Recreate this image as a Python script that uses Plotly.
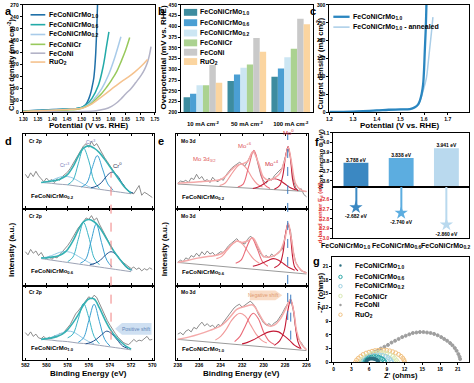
import plotly.graph_objects as go

W, H = 474, 383
FONT = "Liberation Sans"


def X(px):
    return px / W


def Y(py):
    return 1 - py / H


# ---------------- panel a : LSV ----------------
A_NAMES = ["FeCoNiCrMo<sub>1.0</sub>", "FeCoNiCrMo<sub>0.6</sub>", "FeCoNiCrMo<sub>0.2</sub>",
           "FeCoNiCr", "FeCoNi", "RuO<sub>2</sub>"]
A_COLORS = ["#1f70a8", "#22aaa8", "#a9cbe9", "#98c95c", "#b3b3c7", "#f5c28e"]
a_mo10_x = [1.30, 1.35, 1.40, 1.45, 1.48, 1.50, 1.513, 1.52, 1.529, 1.535, 1.541, 1.545, 1.548, 1.551, 1.554]
a_mo10_y = [3, 5, 7, 8, 9, 12, 19, 27, 44, 62, 85, 115, 150, 200, 270]
a_mo06_x = [1.30, 1.40, 1.45, 1.48, 1.50, 1.52, 1.535, 1.557, 1.574, 1.585, 1.593]
a_mo06_y = [3, 6, 8, 9, 12, 22, 35, 68, 118, 167, 202]
a_mo02_x = [1.30, 1.40, 1.45, 1.48, 1.50, 1.52, 1.535, 1.552, 1.569, 1.591, 1.613, 1.634]
a_mo02_y = [2, 5, 7, 8, 11, 18, 27, 42, 60, 93, 138, 190]
a_cr_x = [1.30, 1.40, 1.45, 1.48, 1.50, 1.52, 1.535, 1.55, 1.569, 1.585, 1.602, 1.62, 1.636, 1.65, 1.664]
a_cr_y = [2, 4, 6, 7, 10, 16, 23, 34, 48, 63, 81, 103, 130, 156, 188]
a_ni_x = [1.30, 1.40, 1.50, 1.55, 1.58, 1.602, 1.62, 1.636, 1.65, 1.669, 1.685, 1.703, 1.715, 1.725, 1.732, 1.737]
a_ni_y = [1, 1.5, 2, 4, 8, 15, 24, 35, 46, 60, 75, 93, 108, 126, 145, 165]
a_ru_x = [1.30, 1.40, 1.45, 1.48, 1.50, 1.513, 1.53, 1.546, 1.57, 1.591, 1.614, 1.636, 1.66, 1.681, 1.705, 1.725]
a_ru_y = [2, 5, 7, 8, 10, 13, 19, 27, 40, 52, 65, 77, 89, 101, 117, 133]
A_X = [a_mo10_x, a_mo06_x, a_mo02_x, a_cr_x, a_ni_x, a_ru_x]
A_Y = [a_mo10_y, a_mo06_y, a_mo02_y, a_cr_y, a_ni_y, a_ru_y]

# ---------------- panel b : overpotential bars ----------------
B_CATS = ["10 mA cm<sup>-2</sup>", "50 mA cm<sup>-2</sup>", "100 mA cm<sup>-2</sup>"]
B_COLORS = ["#3d8c9f", "#4b9fd3", "#cce6f3", "#abd290", "#c9c9c9", "#fbd5a0"]
b_mo10 = [235, 273, 283]
b_mo06 = [243, 288, 302]
b_mo02 = [263, 304, 328]
b_cr = [263, 311, 348]
b_ni = [310, 373, 418]
b_ru = [269, 341, 405]
B_VALS = [b_mo10, b_mo06, b_mo02, b_cr, b_ni, b_ru]

# ---------------- panel c ----------------
C_NAMES = ["FeCoNiCrMo<sub>1.0</sub>", "FeCoNiCrMo<sub>1.0</sub> - annealed"]
c_as_x = [1.2, 1.3, 1.4, 1.45, 1.5, 1.54, 1.561, 1.575, 1.582, 1.59, 1.596, 1.600, 1.603, 1.607, 1.61]
c_as_y = [1, 2, 5, 7, 8, 9, 14, 22, 32, 52, 78, 120, 170, 230, 300]
c_an_x = [1.2, 1.3, 1.4, 1.45, 1.5, 1.54, 1.561, 1.575, 1.583, 1.596, 1.61, 1.617, 1.624, 1.631, 1.6375]
c_an_y = [1, 2, 5, 7, 8, 9, 13, 21, 32, 60, 96, 135, 179, 222, 266]

# ---------------- panel d : Cr 2p XPS ----------------
CR_BE = [582.0, 581.75, 581.5, 581.25, 581.0, 580.75, 580.5, 580.25, 580.0, 579.75, 579.5, 579.25,
         579.0, 578.75, 578.5, 578.25, 578.0, 577.75, 577.5, 577.25, 577.0, 576.75, 576.5, 576.25,
         576.0, 575.75, 575.5, 575.25, 575.0, 574.75, 574.5, 574.25, 574.0, 573.75, 573.5, 573.25,
         573.0, 572.75, 572.5, 572.25, 572.0, 571.75, 571.5, 571.25, 571.0, 570.75, 570.5, 570.25, 570.0]
cr02_raw = [46, 41, 48, 43, 50, 44, 40, 36, 41, 37, 39, 35, 40, 38, 43, 46, 49, 54, 60, 66, 73, 79, 84, 87,
            82, 90, 84, 87, 80, 74, 68, 63, 57, 52, 47, 41, 36, 33, 27, 24, 21, 20, 26, 31, 18, 22, 20, 17, 15]
cr06_raw = [44, 40, 47, 42, 45, 39, 43, 37, 35, 38, 34, 37, 36, 40, 44, 47, 52, 57, 63, 70, 75, 79, 84, 88,
            86, 91, 85, 88, 80, 73, 66, 60, 52, 47, 42, 37, 33, 30, 27, 25, 22, 24, 21, 23, 19, 22, 20, 23, 21]
cr10_raw = [37, 33, 38, 32, 35, 30, 29, 32, 28, 31, 29, 33, 31, 36, 35, 39, 43, 48, 55, 62, 66, 71, 76, 80,
            85, 82, 87, 84, 76, 68, 60, 53, 47, 41, 36, 31, 27, 24, 22, 21, 24, 28, 25, 27, 26, 29, 32, 27, 28]
CR_FIT_BE = [580.5, 580.0, 579.5, 579.0, 578.5, 578.0, 577.5, 577.0, 576.5, 576.0, 575.5, 575.0,
             574.5, 574.0, 573.5, 573.0, 572.5, 572.0]
cr02_env = [35, 36, 37, 38, 41, 46, 56, 70, 81, 84, 81, 75, 66, 56, 46, 36, 27, 21]
cr02_bg = [35, 34.5, 34, 33, 32.5, 32, 31, 30, 29, 28, 27, 26, 25, 24, 23, 22, 21, 20]
cr06_env = [36, 36, 37, 38, 41, 47, 58, 72, 83, 86, 83, 76, 65, 53, 42, 33, 25, 20]
cr06_bg = [35, 34, 33, 32, 31, 30, 29, 28, 27, 26, 25, 24, 23, 22, 21, 20, 19, 18]
cr10_env = [28, 29, 30, 32, 35, 41, 50, 61, 74, 82, 82, 70, 55, 42, 32, 25, 19, 15]
cr10_bg = [28, 27.5, 27, 26, 25.5, 25, 24, 23, 22.5, 22, 21, 20, 19, 18, 17, 16, 15, 14]
# fitted components: (binding energies, intensities)
cr02_c1_be = [580.5, 580.0, 579.5, 579.0, 578.5, 578.0, 577.5, 577.0, 576.5, 576.0, 575.5]
cr02_c1 = [35, 36, 38, 41, 43, 43, 41, 37, 33, 29.5, 27]
cr02_c2_be = [578.0, 577.5, 577.0, 576.5, 576.0, 575.5, 575.0]
cr02_c2 = [32, 38, 60, 81, 64, 37, 27]
cr02_c3_be = [576.7, 576.2, 575.7, 575.2, 574.7, 574.2, 573.7]
cr02_c3 = [29, 34, 54, 71, 53, 33, 25]
cr02_c4_be = [575.8, 575.3, 574.8, 574.3, 573.8, 573.3, 572.8, 572.3, 571.8]
cr02_c4 = [28, 30, 35, 44, 49, 44, 33, 24, 21]
cr06_c1_be = [580.5, 580.0, 579.5, 579.0, 578.5, 578.0, 577.5, 577.0, 576.5, 576.0, 575.5]
cr06_c1 = [36, 37, 39, 42, 44, 44, 42, 38, 34, 30, 27]
cr06_c2_be = [578.0, 577.5, 577.0, 576.5, 576.0, 575.5, 575.0]
cr06_c2 = [31, 37, 60, 82, 63, 36, 27]
cr06_c3_be = [576.8, 576.3, 575.8, 575.3, 574.8, 574.3, 573.8]
cr06_c3 = [29, 34, 57, 80, 56, 33, 24]
cr06_c4_be = [575.9, 575.4, 574.9, 574.4, 573.9, 573.4, 572.9, 572.4, 571.9]
cr06_c4 = [27, 29, 33, 40, 44, 40, 31, 23, 20]
cr10_c1_be = [580.5, 580.0, 579.5, 579.0, 578.5, 578.0, 577.5, 577.0, 576.5, 576.0, 575.5]
cr10_c1 = [28, 29, 31, 34, 37, 39, 38, 34, 29, 25, 22]
cr10_c2_be = [578.0, 577.5, 577.0, 576.5, 576.0, 575.5, 575.0]
cr10_c2 = [30, 35, 55, 76, 57, 32, 22]
cr10_c3_be = [577.0, 576.5, 576.0, 575.5, 575.0, 574.5, 574.0]
cr10_c3 = [24, 30, 53, 75, 52, 28, 19]
cr10_c4_be = [576.3, 575.8, 575.3, 574.8, 574.3, 573.8, 573.3, 572.8, 572.3]
cr10_c4 = [22, 24, 28, 34, 39, 35, 27, 19, 16]
CR_REF_BE = 573.9

# ---------------- panel e : Mo 3d XPS ----------------
MO_BE = [238.0, 237.75, 237.5, 237.25, 237.0, 236.75, 236.5, 236.25, 236.0, 235.75, 235.5, 235.25,
         235.0, 234.75, 234.5, 234.25, 234.0, 233.75, 233.5, 233.25, 233.0, 232.75, 232.5, 232.25,
         232.0, 231.75, 231.5, 231.25, 231.0, 230.75, 230.5, 230.25, 230.0, 229.75, 229.5, 229.25,
         229.0, 228.75, 228.5, 228.25, 228.0, 227.75, 227.5, 227.25, 227.0, 226.75, 226.5, 226.25, 226.0]
mo02_raw = [34, 37, 36, 38, 35, 41, 39, 46, 40, 43, 37, 39, 35, 42, 38, 36, 40, 38, 45, 50, 54, 57, 59, 62,
            60, 57, 63, 70, 77, 73, 58, 44, 37, 34, 41, 38, 44, 48, 52, 55, 68, 82, 70, 40, 28, 24, 27, 19, 16]
mo06_raw = [30, 33, 31, 36, 34, 39, 37, 42, 38, 44, 40, 45, 41, 43, 39, 42, 44, 43, 48, 52, 55, 58, 61, 57,
            55, 54, 60, 64, 62, 57, 48, 41, 37, 39, 36, 41, 38, 42, 45, 47, 62, 80, 72, 45, 30, 24, 19, 18, 17]
mo10_raw = [35, 37, 34, 39, 41, 38, 44, 42, 47, 51, 46, 49, 45, 47, 43, 48, 46, 51, 55, 60, 66, 70, 73, 75,
            71, 74, 77, 79, 76, 71, 62, 55, 50, 47, 49, 46, 50, 52, 57, 63, 70, 76, 82, 68, 42, 28, 24, 18, 15]
MO_BG_BE = [238.0, 226.0]
mo02_bg = [33, 23]
mo06_bg = [30, 15]
mo10_bg = [28, 13]
mo02_env_be = [238, 237, 236, 235, 234, 233.5, 233, 232.5, 232, 231.5, 231, 230.5, 230, 229.5, 229, 228.5,
               228, 227.7, 227.4, 227, 226.5, 226]
mo02_env = [34, 35, 36, 37, 39, 44, 52, 58, 60, 63, 76, 62, 42, 38, 41, 47, 66, 82, 62, 33, 25, 23]
mo06_env_be = mo02_env_be
mo06_env = [30, 33, 36, 38, 41, 46, 53, 58, 56, 58, 62, 50, 38, 37, 39, 44, 62, 81, 60, 30, 20, 16]
mo10_env_be = [238, 237, 236, 235, 234, 233.5, 233, 232.5, 232, 231.5, 231, 230.5, 230, 229.5, 229, 228.5,
               228, 227.5, 227.2, 226.9, 226.5, 226]
mo10_env = [28, 31, 35, 40, 46, 52, 60, 68, 71, 73, 74, 64, 52, 46, 47, 54, 67, 81, 66, 38, 22, 14]
mo02_c1_be = [234.1, 233.6, 233.1, 232.6, 232.1, 231.6, 231.1, 230.6, 230.1]
mo02_c1 = [31, 34, 44, 54, 60, 54, 42, 33, 29]
mo02_c2_be = [232.4, 231.9, 231.4, 230.9, 230.4, 229.9, 229.4]
mo02_c2 = [29, 33, 56, 78, 55, 32, 27]
mo02_c3_be = [231.0, 230.5, 230.0, 229.5, 229.0, 228.5, 228.0, 227.5, 227.0]
mo02_c3 = [27, 29, 33, 38, 40, 38, 33, 28, 25]
mo02_c4_be = [229.0, 228.5, 228.2, 227.95, 227.72, 227.5, 227.3, 227.1, 226.8]
mo02_c4 = [26, 31, 45, 70, 83, 68, 40, 28, 24]
mo06_c1_be = [234.4, 233.9, 233.4, 232.9, 232.4, 231.9, 231.4, 230.9, 230.4]
mo06_c1 = [35, 38, 46, 54, 58, 53, 43, 34, 29]
mo06_c2_be = [232.6, 232.1, 231.6, 231.1, 230.6, 230.1, 229.6]
mo06_c2 = [29, 33, 49, 62, 48, 31, 25]
mo06_c3_be = [231.0, 230.5, 230.0, 229.5, 229.1, 228.6, 228.1, 227.6, 227.1]
mo06_c3 = [25, 27, 30, 33, 35, 33, 28, 23, 20]
mo06_c4_be = [229.0, 228.5, 228.2, 227.95, 227.72, 227.5, 227.3, 227.1, 226.8]
mo06_c4 = [23, 28, 42, 68, 81, 66, 38, 24, 19]
mo10_c1_be = [234.5, 234.0, 233.5, 233.0, 232.5, 232.2, 231.7, 231.2, 230.7, 230.2, 229.7]
mo10_c1 = [27, 32, 41, 53, 61, 63, 59, 47, 35, 27, 23]
mo10_c2_be = [232.7, 232.2, 231.7, 231.2, 230.95, 230.5, 230.0, 229.5, 229.0]
mo10_c2 = [25, 32, 46, 60, 63, 56, 38, 26, 21]
mo10_c3_be = [232.0, 231.5, 231.0, 230.5, 230.0, 229.5, 229.1, 228.6, 228.1, 227.6, 227.1, 226.6]
mo10_c3 = [22, 24, 27, 31, 35, 38, 39, 38, 33, 27, 20, 16]
mo10_c4_be = [229.0, 228.5, 228.1, 227.8, 227.47, 227.2, 227.0, 226.8, 226.5]
mo10_c4 = [20, 26, 38, 62, 81, 66, 42, 25, 15]
MO_REF_BE = 227.75
MO_SHIFT_BE = 227.47

# ---------------- panel f ----------------
F_CATS = ["FeCoNiCrMo<sub>1.0</sub>", "FeCoNiCrMo<sub>0.6</sub>", "FeCoNiCrMo<sub>0.2</sub>"]
F_COLORS = ["#3b88c2", "#5cade0", "#b9d9ee"]
f_work = [3.788, 3.838, 3.941]
f_dband = [-2.682, -2.740, -2.860]
F_WF_RANGE = [3.535, 4.1]
F_DB_RANGE = [-3.0, -2.473]

# ---------------- panel g : Nyquist ----------------
G_NAMES = A_NAMES
G_COLORS = ["#2c6f80", "#2aa6a6", "#9bd0e2", "#d9e9b3", "#9e9e9e", "#f1c282"]
g_mo10_x = [5.5, 5.6, 5.8, 6.1, 6.4, 6.7, 7.0, 7.3, 7.5, 7.6]
g_mo10_y = [0.0, 0.35, 0.6, 0.75, 0.8, 0.78, 0.68, 0.5, 0.25, 0.05]
g_mo06_x = [5.3, 5.45, 5.7, 6.0, 6.4, 6.8, 7.2, 7.6, 8.0, 8.3, 8.55, 8.7]
g_mo06_y = [0.0, 0.4, 0.7, 0.95, 1.1, 1.2, 1.2, 1.1, 0.9, 0.65, 0.35, 0.05]
g_mo02_x = [5.0, 5.2, 5.5, 5.9, 6.3, 6.8, 7.3, 7.8, 8.3, 8.8, 9.2, 9.5, 9.7, 9.8]
g_mo02_y = [0.0, 0.45, 0.8, 1.1, 1.35, 1.5, 1.6, 1.6, 1.5, 1.3, 1.05, 0.7, 0.35, 0.05]
g_cr_x = [4.6, 4.8, 5.1, 5.5, 6.0, 6.5, 7.0, 7.5, 8.0, 8.5, 9.0, 9.5, 10.0, 10.3, 10.6, 10.8]
g_cr_y = [0.0, 0.5, 0.9, 1.3, 1.6, 1.85, 2.0, 2.1, 2.1, 2.05, 1.9, 1.65, 1.3, 0.95, 0.5, 0.1]
g_ni_x = [4.6, 5.0, 5.5, 6.0, 6.5, 7.0, 7.5, 8.0, 8.6, 9.2, 9.8, 10.4, 11.0, 11.6, 12.2, 12.8, 13.4, 14.0,
          14.6, 15.2, 15.8, 16.4, 17.0, 17.6, 18.2, 18.7, 19.2, 19.7, 20.1, 20.5, 20.8, 21.1, 21.3, 21.4]
g_ni_y = [0.1, 0.6, 1.1, 1.5, 1.9, 2.3, 2.6, 3.0, 3.4, 3.8, 4.3, 4.7, 5.1, 5.5, 5.8, 6.1, 6.4, 6.5,
          6.6, 6.6, 6.5, 6.4, 6.2, 5.9, 5.5, 5.1, 4.7, 4.2, 3.7, 3.1, 2.5, 1.8, 1.2, 0.7]
g_ru_x = [3.7, 3.9, 4.2, 4.6, 5.0, 5.5, 6.0, 6.5, 7.0, 7.5, 8.0, 8.5, 9.0, 9.5, 10.0, 10.5, 11.0, 11.4,
          11.7, 11.9, 12.0]
g_ru_y = [0.0, 0.5, 0.9, 1.3, 1.7, 2.0, 2.2, 2.4, 2.55, 2.6, 2.65, 2.65, 2.6, 2.5, 2.3, 2.05, 1.7, 1.3,
          0.9, 0.5, 0.1]
G_X = [g_mo10_x, g_mo06_x, g_mo02_x, g_cr_x, g_ni_x, g_ru_x]
G_Y = [g_mo10_y, g_mo06_y, g_mo02_y, g_cr_y, g_ni_y, g_ru_y]

# =====================================================================
fig = go.Figure()
shapes = []
annotations = []
TICKFONT = dict(family=FONT, size=5, color="black", weight="bold")


def axis(domain, anchor, **kw):
    d = dict(domain=domain, anchor=anchor, showline=True, linecolor="black", linewidth=1,
             mirror=True, ticks="outside", ticklen=2, tickwidth=0.8, tickcolor="black",
             tickfont=TICKFONT, showgrid=False, zeroline=False)
    d.update(kw)
    return d


def text(t, x, y, size=7, color="black", xanchor="center", yanchor="middle", angle=0, weight="bold"):
    annotations.append(dict(text=t, x=X(x), y=Y(y), xref="paper", yref="paper", showarrow=False,
                            xanchor=xanchor, yanchor=yanchor, textangle=angle, borderpad=0,
                            font=dict(family=FONT, size=size, color=color, weight=weight)))


layout_axes = {}
DOM_TOP = [Y(111), Y(2)]
layout_axes["xaxis"] = axis([X(19), X(154)], "y", range=[1.298, 1.752], tickangle=0,
                            tickvals=[1.30, 1.35, 1.40, 1.45, 1.50, 1.55, 1.60, 1.65, 1.70, 1.75], tickformat=".2f",
                            tickfont=dict(family=FONT, size=4.5, color="black", weight="bold"))
layout_axes["yaxis"] = axis(DOM_TOP, "x", range=[0, 270], dtick=30)
layout_axes["xaxis2"] = axis([X(180), X(314)], "y2", type="category", ticks="", ticklabelstandoff=6, tickangle=0,
                             tickfont=dict(family=FONT, size=6, color="black", weight="bold"))
layout_axes["yaxis2"] = axis(DOM_TOP, "x2", range=[200, 450], dtick=25)
layout_axes["xaxis3"] = axis([X(331), X(473)], "y3", range=[1.2, 1.79], dtick=0.1)
layout_axes["yaxis3"] = axis(DOM_TOP, "x3", range=[0, 300], dtick=50)

# --- panel a traces
for xs, ys, c in zip(A_X, A_Y, A_COLORS):
    fig.add_trace(go.Scatter(x=xs, y=ys, mode="lines", line=dict(color=c, width=1.5, shape="spline"),
                             xaxis="x", yaxis="y", showlegend=False))
a_rows = [12, 22, 32, 42, 51, 60]
for name, c, ry in zip(A_NAMES, A_COLORS, a_rows):
    shapes.append(dict(type="line", xref="paper", yref="paper", x0=X(27), x1=X(42), y0=Y(ry), y1=Y(ry),
                       line=dict(color=c, width=1.6)))
    text(name, 45, ry, size=7, xanchor="left")
text("Potential (V vs. RHE)", 86, 124, size=8)
text("Current density (mA cm<sup>-2</sup>)", 7, 63, size=7.5, angle=-90)

# --- panel b traces
for vals, c in zip(B_VALS, B_COLORS):
    fig.add_trace(go.Bar(x=B_CATS, y=vals, marker=dict(color=c, line=dict(width=0)),
                         xaxis="x2", yaxis="y2", showlegend=False))
b_rows = [9.5, 20, 30.5, 40.5, 50, 59.5]
for name, c, ry in zip(A_NAMES, B_COLORS, b_rows):
    shapes.append(dict(type="rect", xref="paper", yref="paper", x0=X(183), x1=X(196.5), y0=Y(ry + 3.5),
                       y1=Y(ry - 3.5), fillcolor=c, line=dict(width=0)))
    text(name, 198.5, ry, size=7, xanchor="left")
text("Overpotential (mV vs. RHE)", 162, 55, size=8, angle=-90)

# --- panel c traces
fig.add_trace(go.Scatter(x=c_an_x, y=c_an_y, mode="lines", line=dict(color="#a9cde7", width=1.5, shape="spline"),
                         xaxis="x3", yaxis="y3", showlegend=False))
fig.add_trace(go.Scatter(x=c_as_x, y=c_as_y, mode="lines", line=dict(color="#2a86c0", width=2.3, shape="spline"),
                         xaxis="x3", yaxis="y3", showlegend=False))
for name, c, wdt, ry in zip(C_NAMES, ["#2a86c0", "#a9cde7"], [2.3, 1.5], [14, 24.5]):
    shapes.append(dict(type="line", xref="paper", yref="paper", x0=X(335), x1=X(351.5), y0=Y(ry), y1=Y(ry),
                       line=dict(color=c, width=wdt)))
    text(name, 354, ry, size=7, xanchor="left")
text("Potential (V vs. RHE)", 402, 124, size=8)
text("Current density (mA cm<sup>-2</sup>)", 321, 62, size=7.5, angle=-90)

# --- XPS panels
XPS_DOMS = [[Y(209), Y(133)], [Y(287), Y(209)], [Y(363), Y(287)]]
CR_COMP_COLORS = ["#92c9e6", "#3bb5c6", "#3aa0d2", "#1f4f8e"]
MO_COMP_COLORS = ["#f19a9a", "#ea6b78", "#c41a35", "#c41a35"]
cr_sets = [
    (cr02_raw, cr02_env, cr02_bg, [(cr02_c1_be, cr02_c1), (cr02_c2_be, cr02_c2), (cr02_c3_be, cr02_c3), (cr02_c4_be, cr02_c4)]),
    (cr06_raw, cr06_env, cr06_bg, [(cr06_c1_be, cr06_c1), (cr06_c2_be, cr06_c2), (cr06_c3_be, cr06_c3), (cr06_c4_be, cr06_c4)]),
    (cr10_raw, cr10_env, cr10_bg, [(cr10_c1_be, cr10_c1), (cr10_c2_be, cr10_c2), (cr10_c3_be, cr10_c3), (cr10_c4_be, cr10_c4)]),
]
mo_sets = [
    (mo02_raw, mo02_env_be, mo02_env, mo02_bg, [(mo02_c1_be, mo02_c1), (mo02_c2_be, mo02_c2), (mo02_c3_be, mo02_c3), (mo02_c4_be, mo02_c4)]),
    (mo06_raw, mo06_env_be, mo06_env, mo06_bg, [(mo06_c1_be, mo06_c1), (mo06_c2_be, mo06_c2), (mo06_c3_be, mo06_c3), (mo06_c4_be, mo06_c4)]),
    (mo10_raw, mo10_env_be, mo10_env, mo10_bg, [(mo10_c1_be, mo10_c1), (mo10_c2_be, mo10_c2), (mo10_c3_be, mo10_c3), (mo10_c4_be, mo10_c4)]),
]
for i in range(3):
    xd = "xaxis%d" % (4 + i)
    yd = "yaxis%d" % (4 + i)
    last = i == 2
    layout_axes[xd] = axis([X(19), X(153)], "y%d" % (4 + i), range=[582.25, 569.8],
                           tickvals=[582, 580, 578, 576, 574, 572, 570], ticks="inside", mirror="allticks",
                           showticklabels=last, ticklen=2.5)
    layout_axes[yd] = axis(XPS_DOMS[i], "x%d" % (4 + i), range=[0, 100], ticks="", showticklabels=False)
    xe = "xaxis%d" % (7 + i)
    ye = "yaxis%d" % (7 + i)
    layout_axes[xe] = axis([X(175), X(309)], "y%d" % (7 + i), range=[238.16, 225.88],
                           tickvals=[238, 236, 234, 232, 230, 228, 226], ticks="inside", mirror="allticks",
                           showticklabels=last, ticklen=2.5)
    layout_axes[ye] = axis(XPS_DOMS[i], "x%d" % (7 + i), range=[0, 100], ticks="", showticklabels=False)

    raw, env, bg, comps = cr_sets[i]
    xa, ya = "x%d" % (4 + i), "y%d" % (4 + i)
    fig.add_trace(go.Scatter(x=CR_BE, y=raw, mode="lines", line=dict(color="#6e6e6e", width=0.8),
                             xaxis=xa, yaxis=ya, showlegend=False))
    fig.add_trace(go.Scatter(x=CR_FIT_BE, y=bg, mode="lines", line=dict(color="#9da3b5", width=1, shape="spline"),
                             xaxis=xa, yaxis=ya, showlegend=False))
    for (cbe, cy), cc in zip(comps, CR_COMP_COLORS):
        fig.add_trace(go.Scatter(x=cbe, y=cy, mode="lines", line=dict(color=cc, width=1, shape="spline"),
                                 xaxis=xa, yaxis=ya, showlegend=False))
    fig.add_trace(go.Scatter(x=CR_FIT_BE, y=env, mode="lines", line=dict(color="#35b1b3", width=1.6, shape="spline"),
                             xaxis=xa, yaxis=ya, showlegend=False))

    raw, ebe, env, bg, comps = mo_sets[i]
    xa, ya = "x%d" % (7 + i), "y%d" % (7 + i)
    fig.add_trace(go.Scatter(x=MO_BE, y=raw, mode="lines", line=dict(color="#6e6e6e", width=0.8),
                             xaxis=xa, yaxis=ya, showlegend=False))
    fig.add_trace(go.Scatter(x=MO_BG_BE, y=bg, mode="lines", line=dict(color="#9a9a9a", width=1),
                             xaxis=xa, yaxis=ya, showlegend=False))
    for (cbe, cy), cc in zip(comps, MO_COMP_COLORS):
        fig.add_trace(go.Scatter(x=cbe, y=cy, mode="lines", line=dict(color=cc, width=1.1, shape="spline"),
                                 xaxis=xa, yaxis=ya, showlegend=False))
    fig.add_trace(go.Scatter(x=ebe, y=env, mode="lines", line=dict(color="#f4a9a9", width=1.5, shape="spline"),
                             xaxis=xa, yaxis=ya, showlegend=False))

# XPS labels
for ytop, nm in zip([133, 209, 287], ["FeCoNiCrMo<sub>0.2</sub>", "FeCoNiCrMo<sub>0.6</sub>", "FeCoNiCrMo<sub>1.0</sub>"]):
    text("Cr 2p", 24, ytop + 7, size=5, xanchor="left")
    text(nm, 26, ytop + 64, size=6, xanchor="left")
    text("Mo 3d", 179, ytop + 7, size=5, xanchor="left")
    text(nm, 180, ytop + 65, size=6, xanchor="left")
text("Cr<sup>+3</sup>", 62, 165, size=5, color="#7a7ab8", weight="normal")
text("Cr<sup>+3</sup>", 88, 141, size=5, color="#7a7ab8", weight="normal")
text("Cr<sup>0</sup>", 115, 165, size=6, color="#303050", weight="normal")
text("Mo 3d<sub>3/2</sub>", 204, 159, size=6, color="#e05a5a", weight="normal")
text("Mo<sup>+6</sup>", 245, 144, size=6, color="#e05a5a", weight="normal")
text("Mo<sup>+4</sup>", 273, 163, size=6, color="#d03040", weight="normal")
text("Mo<sup>0</sup>", 289, 131, size=6, color="#d03040", weight="normal")
text("Binding Energy (eV)", 86, 376, size=8)
text("Binding Energy (eV)", 242, 376, size=8)
text("Intensity (a.u.)", 7, 250, size=8, angle=-90)
text("Intensity (a.u.)", 163, 250, size=8, angle=-90)

# reference dashed lines
shapes.append(dict(type="line", xref="x6", yref="paper", x0=CR_REF_BE, x1=CR_REF_BE, y0=Y(342), y1=Y(172),
                   line=dict(color="#f08080", width=1, dash="dash")))
shapes.append(dict(type="line", xref="x9", yref="paper", x0=MO_REF_BE, x1=MO_REF_BE, y0=Y(322), y1=Y(133),
                   line=dict(color="#3a7ac0", width=1, dash="dash")))
shapes.append(dict(type="line", xref="x9", yref="paper", x0=MO_SHIFT_BE, x1=MO_SHIFT_BE, y0=Y(342), y1=Y(291),
                   line=dict(color="#3a7ac0", width=1, dash="dash")))


def poly(pts):
    return "M " + " L ".join("%.5f,%.5f" % (X(px), Y(py)) for px, py in pts) + " Z"


shapes.append(dict(type="path", xref="paper", yref="paper",
                   path=poly([(113, 331), (120, 325), (150, 325), (150, 337), (120, 337)]),
                   fillcolor="#cfe0f2", line=dict(width=0)))
text("Positive shift", 135, 331, size=5, color="#5f86b8", weight="normal")
shapes.append(dict(type="path", xref="paper", yref="paper",
                   path=poly([(250, 292), (276, 292), (283, 297), (276, 302), (250, 302)]),
                   fillcolor="#f9dcc6", line=dict(width=0)))
text("Negative shift", 264, 297, size=5, color="#e09a70", weight="normal")

# --- panel f
layout_axes["xaxis10"] = axis([X(335), X(473)], "y10", type="category", ticks="", showticklabels=False)
layout_axes["yaxis10"] = axis([Y(187), Y(132)], "x10", range=F_WF_RANGE, tickvals=[3.6, 3.7, 3.8, 3.9, 4.0, 4.1],
                              tickformat=".1f")
layout_axes["xaxis11"] = axis([X(335), X(473)], "y11", type="category", ticks="", showticklabels=False)
layout_axes["yaxis11"] = axis([Y(239), Y(187)], "x11", range=F_DB_RANGE, tickvals=[-2.6, -2.7, -2.8, -2.9, -3.0],
                              tickformat=".1f", tickfont=dict(family=FONT, size=5, color="#e03030", weight="bold"))
fig.add_trace(go.Bar(x=F_CATS, y=f_work, width=0.55, marker=dict(color=F_COLORS, line=dict(width=0)),
                     xaxis="x10", yaxis="y10", showlegend=False))
fig.add_trace(go.Scatter(x=F_CATS, y=f_work, mode="text", text=["%.3f eV" % v for v in f_work],
                         textposition="top center", textfont=dict(family=FONT, size=5, color="black", weight="bold"),
                         xaxis="x10", yaxis="y10", showlegend=False))
fig.add_trace(go.Bar(x=F_CATS, y=f_dband, width=0.025, marker=dict(color=F_COLORS, line=dict(width=0)),
                     xaxis="x11", yaxis="y11", showlegend=False))
fig.add_trace(go.Scatter(x=F_CATS, y=f_dband, mode="markers+text", text=["%.3f eV" % v for v in f_dband],
                         textposition="bottom center",
                         marker=dict(symbol="star", size=10, color=F_COLORS, line=dict(width=0)),
                         textfont=dict(family=FONT, size=5, color="black", weight="bold"),
                         xaxis="x11", yaxis="y11", showlegend=False))
# category labels under panel f
for cat, lx in zip(F_CATS, [347.5, 399, 449.5]):
    text(cat, lx, 247, size=7)
text("Work function Φ (eV)", 322, 159, size=6, angle=-90)
text("d-band center E<sub>d</sub> (eV)", 322, 213, size=6, angle=-90, color="#e03030")

# --- panel g
layout_axes["xaxis12"] = axis([X(334), X(473)], "y12", range=[-0.2, 22.9], dtick=3)
layout_axes["yaxis12"] = axis([Y(365), Y(258)], "x12", range=[0, 23], dtick=3)
order = [4, 5, 3, 2, 1, 0]
for k in order:
    sym = "circle" if k in (0, 4) else "circle-open"
    sz = 3 if k in (0, 4) else 4
    fig.add_trace(go.Scatter(x=G_X[k], y=G_Y[k], mode="markers",
                             marker=dict(symbol=sym, size=sz, color=G_COLORS[k], line=dict(width=1, color=G_COLORS[k])),
                             xaxis="x12", yaxis="y12", showlegend=False))
g_rows = [266.7, 278.3, 287.7, 297.7, 306.7, 316.7]
for k, (name, c, ry) in enumerate(zip(G_NAMES, G_COLORS, g_rows)):
    if k in (0, 4):
        shapes.append(dict(type="circle", xref="paper", yref="paper", x0=X(341), x1=X(343.5), y0=Y(ry + 1.25),
                           y1=Y(ry - 1.25), fillcolor=c, line=dict(width=0)))
    else:
        shapes.append(dict(type="circle", xref="paper", yref="paper", x0=X(340.5), x1=X(344), y0=Y(ry + 1.75),
                           y1=Y(ry - 1.75), line=dict(color=c, width=1)))
    text(name, 356.5, ry, size=7, xanchor="left")
text("Z' (ohms)", 404, 378, size=7.5)
text("-Z'' (ohms)", 322, 294, size=8, angle=-90)

# panel letters
for L, lx, ly in [("a", 5, 8), ("b", 160, 8), ("c", 314, 8), ("d", 5, 140), ("e", 160, 140),
                  ("f", 318, 141), ("g", 318, 262)]:
    text(L, lx, ly, size=11)

fig.update_layout(width=W, height=H, margin=dict(l=0, r=0, t=0, b=0), paper_bgcolor="white",
                  plot_bgcolor="white", barmode="group", bargap=0.12, bargroupgap=0,
                  showlegend=False, shapes=shapes, annotations=annotations, **layout_axes)
fig.write_html("out.html", config={"displayModeBar": False},
               post_script="document.body.style.margin='0';document.body.style.overflow='hidden';")
